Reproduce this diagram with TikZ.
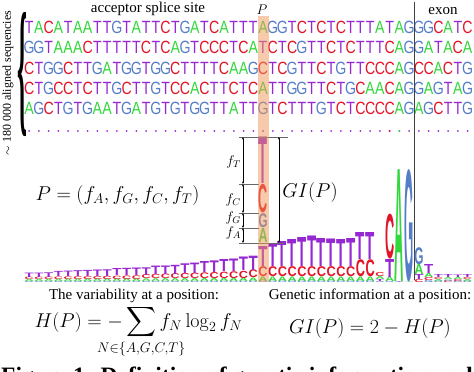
\RequirePackage{fix-cm}
\documentclass[tikz,border=0pt]{standalone}
\usepackage{amsmath}
\usepackage[no-math]{fontspec}
\setmainfont{Liberation Serif}
\setsansfont{Liberation Sans}
\usepackage{graphicx}
\usetikzlibrary{arrows.meta}
\definecolor{cA}{RGB}{50,215,60}
\definecolor{cC}{RGB}{228,20,40}
\definecolor{cG}{RGB}{85,125,200}
\definecolor{cT}{RGB}{150,40,210}
\definecolor{bandc}{RGB}{240,150,90}
\newcommand\zclap[1]{\makebox[0pt]{$\scriptstyle #1$}}
\tikzset{
  seqL/.style={anchor=base, inner sep=0pt, font={\sffamily\fontsize{17.7}{18}\selectfont}},
  logoL/.style={anchor=south, inner sep=0pt, font={\sffamily\bfseries}},
  lbl/.style={inner sep=0pt, font={\fontsize{15}{18}\selectfont}},
  mathbig/.style={inner sep=0pt, font={\fontsize{20}{24}\selectfont}},
  flbl/.style={inner sep=0pt, anchor=base east, font={\fontsize{14}{16}\selectfont}},
  tickline/.style={draw=black!60, line width=0.5pt},
  darr/.style={line width=0.45pt, {Stealth[length=2.6pt,width=2.2pt]}-{Stealth[length=2.6pt,width=2.2pt]}},
}
\newcommand\seqrow[3]{\foreach \l [count=\c] in {#3} {\node[seqL, text=c\l] (s#1-\c) at ({29.2+9.742*(\c-1)}, #2) {\scalebox{0.8}[1]{\l}};}}
\newcommand\logocol[2]{\gdef\ybot{283}\foreach \L/\h [count=\k] in {#2} {\node[logoL, text=c\L] (g#1-\k) at ({29.2+9.742*(#1-1)}, \ybot) {\resizebox*{9.2pt}{\h pt}{\L}};\pgfmathsetmacro\ynew{\ybot-\h}\xdef\ybot{\ynew}}}
\begin{document}
\begin{tikzpicture}[x=1pt,y=-1pt]
\useasboundingbox (0,0) rectangle (474,372);
\clip (0,0) rectangle (474,372);
% sequences
\seqrow{1}{33.5}{T,A,C,A,T,A,A,T,T,G,T,A,T,T,C,T,G,A,T,C,A,T,T,T,A,G,G,T,C,T,C,T,C,T,T,T,A,T,A,G,G,G,C,A,T,C}
\seqrow{2}{53.8}{G,G,T,A,A,A,C,T,T,T,T,T,C,T,C,A,G,T,C,C,C,T,C,A,T,C,T,C,G,T,T,C,T,C,T,T,T,C,A,G,G,A,T,A,C,A}
\seqrow{3}{74}{C,T,G,G,C,T,T,G,A,T,G,G,T,G,G,C,T,T,T,T,C,A,A,G,C,T,C,G,T,T,C,T,G,T,T,C,C,C,A,G,C,C,A,C,T,G}
\seqrow{4}{94.3}{C,T,G,C,C,T,C,T,T,G,C,T,T,G,T,C,C,A,C,T,T,C,T,C,A,T,T,G,G,T,T,C,T,G,C,A,A,C,A,G,G,A,G,T,A,G}
\seqrow{5}{114.5}{A,G,C,T,G,T,G,A,A,T,G,A,T,G,T,G,T,G,G,T,T,A,T,T,G,T,C,T,T,T,G,T,C,T,C,C,C,C,A,G,A,G,C,T,T,G}
% dots
\foreach \c in {1,...,46}{\fill[cT] ({29.2+9.742*(\c-1)},131) circle (1pt);}
\fill[cC] ({29.2+9.742*37},131) circle (1pt);
\fill[cA] ({29.2+9.742*38},131) circle (1pt);
% labels top
\node[lbl, anchor=base] (acc) at (148,12.5) {acceptor splice site};
\node[lbl, anchor=base] (exon) at (443,14) {exon};
\node[inner sep=0pt, anchor=base, font={\fontsize{14}{16}\selectfont}] (Plab) at (262,14) {$P$};
\node[inner sep=0pt, rotate=90, font={\fontsize{12}{14}\selectfont}] (nseq) at (8,83) {$\sim$ 180 000 aligned sequencies};
\node[inner sep=0pt] (brace) at (22.5,75) {\resizebox*{10pt}{124pt}{\textbf{\{}}};
% exon boundary
\coordinate (ex1) at (414,2);
\coordinate (ex2) at (414,280);
\draw[black!75, line width=0.7pt] (ex1) -- (ex2);
% logo
\logocol{1}{G/1,A/2.2,C/2.4,T/4.4}
\logocol{2}{G/1,A/2.2,C/2.4,T/4.4}
\logocol{3}{G/1,A/2.3,C/2.5,T/4.7}
\logocol{4}{G/1,A/2.3,C/2.6,T/5.1}
\logocol{5}{G/1,A/2.4,C/2.7,T/5.4}
\logocol{6}{G/1,A/2.4,C/2.8,T/5.8}
\logocol{7}{G/1,A/2.5,C/2.9,T/6.1}
\logocol{8}{G/1,A/2.5,C/3,T/6.5}
\logocol{9}{G/1,A/2.6,C/3.2,T/6.7}
\logocol{10}{G/1,A/2.6,C/3.4,T/7}
\logocol{11}{G/1,A/2.7,C/3.6,T/7.2}
\logocol{12}{G/1,A/2.7,C/3.8,T/7.5}
\logocol{13}{G/1,A/2.8,C/4,T/7.7}
\logocol{14}{G/1,A/2.8,C/4.3,T/8.4}
\logocol{15}{G/1,A/2.9,C/4.6,T/8.5}
\logocol{16}{G/1,A/2.9,C/4.9,T/9.2}
\logocol{17}{G/1.1,A/3,C/5.2,T/9.7}
\logocol{18}{G/1.1,A/3,C/5.5,T/10.4}
\logocol{19}{G/1.1,A/3.1,C/5.8,T/11}
\logocol{20}{G/1.1,A/3.2,C/6.1,T/11.6}
\logocol{21}{G/1.2,A/3.3,C/6.5,T/12}
\logocol{22}{G/1.2,A/3.4,C/6.9,T/12.5}
\logocol{23}{G/1.2,A/3.5,C/7.3,T/13.5}
\logocol{24}{G/1.3,A/3.6,C/7.8,T/14.3}
\logocol{25}{G/1.5,A/4.5,C/10,T/20}
\logocol{26}{G/1.5,A/4.5,C/10,T/23}
\logocol{27}{G/1.5,A/4.5,C/10,T/25}
\logocol{28}{G/1.5,A/4.5,C/10,T/27}
\logocol{29}{G/1.5,A/4.5,C/10,T/29}
\logocol{30}{G/1.5,A/4.5,C/10,T/30.5}
\logocol{31}{G/1.5,A/4.5,C/10,T/28}
\logocol{32}{G/1.5,A/4.5,C/10,T/27.5}
\logocol{33}{G/1.5,A/4.5,C/10,T/27}
\logocol{34}{G/1.5,A/4.5,C/10,T/28}
\logocol{35}{G/1.5,A/4.5,C/17,T/27}
\logocol{36}{G/1.5,A/4.5,C/17,T/27}
\logocol{37}{G/1,T/2,A/3,C/4}
\logocol{38}{G/1,A/4.5,T/18,C/45}
\logocol{39}{G/0.6,T/0.6,A/111.8}
\logocol{40}{A/0.6,G/112.4}
\logocol{41}{C/3,T/5,A/10,G/17}
\logocol{42}{G/2,C/3,A/4,T/9}
\logocol{43}{G/1.5,A/2,C/2,T/3}
\logocol{44}{C/1.5,G/1.5,A/2,T/3}
\logocol{45}{G/1.5,C/2,A/2,T/2.5}
\logocol{46}{G/1.5,A/2,C/2,T/3}
% magnified column at P
\node[logoL, text=cA] (stA) at (263,242.5) {\resizebox*{9pt}{14pt}{A}};
\node[logoL, text=cG] (stG) at (263,227.8) {\resizebox*{9pt}{14pt}{G}};
\node[logoL, text=cC] (stC) at (263,212.8) {\resizebox*{9pt}{28.5pt}{C}};
\node[logoL, text=cT] (stT) at (263,183.6) {\resizebox*{9pt}{46.5pt}{T}};
% ticks
\coordinate (k0l) at (239,137); \coordinate (k0r) at (288,137);
\coordinate (k1l) at (239,184); \coordinate (k1r) at (259,184);
\coordinate (k2l) at (239,213); \coordinate (k2r) at (259,213);
\coordinate (k3l) at (239,228); \coordinate (k3r) at (259,228);
\coordinate (k4l) at (239,243); \coordinate (k4r) at (284,243);
\foreach \i in {0,...,4}{\draw[tickline] (k\i l) -- (k\i r);}
\coordinate (a0) at (243,137); \coordinate (a1) at (243,184);
\coordinate (a2) at (243,213); \coordinate (a3) at (243,228);
\coordinate (a4) at (243,243);
\draw[darr] (a0) -- (a1);
\draw[darr] (a1) -- (a2);
\draw[darr] (a2) -- (a3);
\draw[darr] (a3) -- (a4);
\coordinate (gi0) at (279,137); \coordinate (gi1) at (279,243);
\draw[darr] (gi0) -- (gi1);
\node[flbl] (fT) at (241,165) {$f_T$};
\node[flbl] (fC) at (241,203) {$f_C$};
\node[flbl] (fG) at (241,221) {$f_G$};
\node[flbl] (fA) at (241,236) {$f_A$};
\node[mathbig, anchor=base] (GIlab) at (310,197) {$GI(P)$};
% band
\fill[bandc, opacity=0.5] (257.5,16) rectangle (268.5,282);
% formulas
\node[mathbig, anchor=base] (Pdef) at (117.5,200) {$P=(f_A,f_G,f_C,f_T)$};
\node[lbl, anchor=base] (var) at (134,299) {The variability at a position:};
\node[mathbig, anchor=base] (Hdef) at (138.5,327) {$H(P)=-\displaystyle\sum_{\zclap{N\in\{A,G,C,T\}}} f_N\log_2 f_N$};
\node[lbl, anchor=base] (gen) at (370,299) {Genetic information at a position:};
\node[mathbig, anchor=base] (GIdef) at (370,333) {$GI(P)=2-H(P)$};
\node[inner sep=0pt, anchor=base west, font={\fontsize{23.5}{26}\selectfont\bfseries}] (cap) at (1,383) {Figure 1: Definition of genetic information and};
\end{tikzpicture}
\end{document}
